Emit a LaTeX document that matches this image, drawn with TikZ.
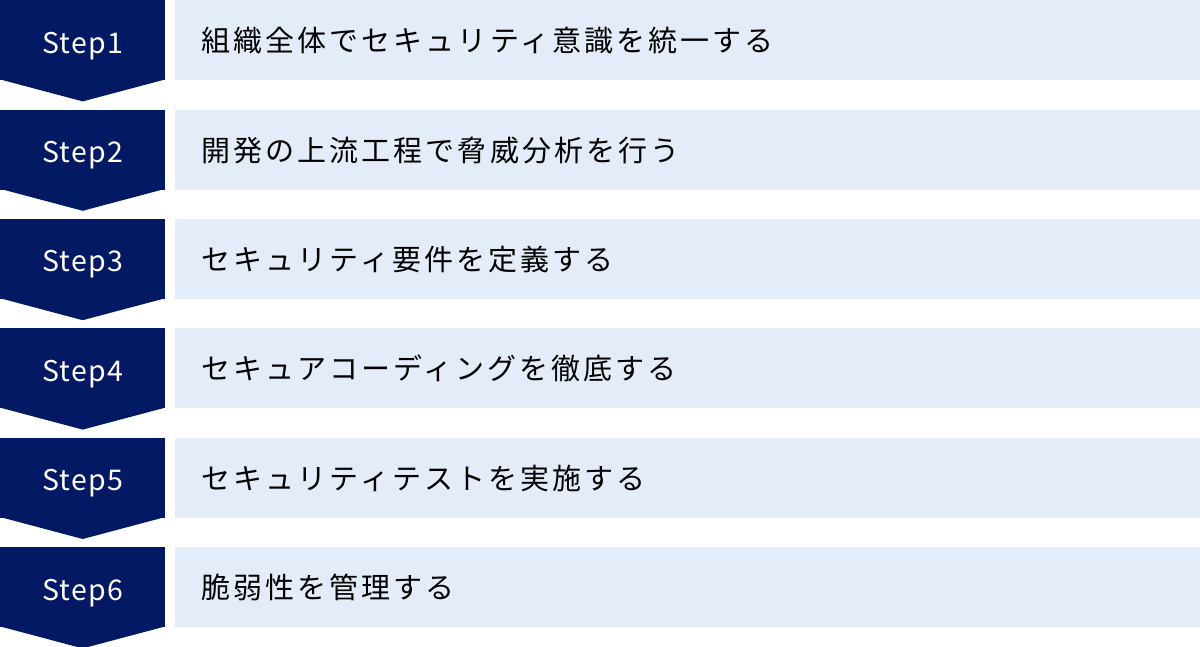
\documentclass[tikz,border=0pt]{standalone}
\usepackage{fontspec}
\setmainfont{Noto Sans CJK JP}
\newfontfamily\stepfont[LetterSpace=4]{Noto Sans CJK JP}
\newfontfamily\taskfont[LetterSpace=10.5]{Noto Sans CJK JP}
\usepackage{tikz}
\usetikzlibrary{positioning}

\definecolor{stepnavy}{RGB}{4,25,99}
\definecolor{taskblue}{RGB}{229,236,249}

\tikzset{
  stepbox/.style={fill=stepnavy,text=white,minimum height=80pt,minimum width=165pt,inner sep=0pt,
    text height=26pt,text depth=0pt,font=\stepfont\fontsize{28.5}{32}\selectfont},
  taskbox/.style={fill=taskblue,minimum height=80pt,text width=974pt,inner xsep=27pt,inner ysep=0pt,align=left,
    text height=23pt,text depth=0pt,font=\taskfont\fontsize{29}{32}\selectfont},
  steptip/.style={fill=stepnavy}
}

\begin{document}
\begin{tikzpicture}[x=1pt,y=1pt]
  \useasboundingbox (0,0) rectangle (1200,-647);

  \node[stepbox,anchor=north west] (s1) at (0,0) {Step1};
  \node[stepbox,below=29pt of s1] (s2) {Step2};
  \node[stepbox,below=29pt of s2] (s3) {Step3};
  \node[stepbox,below=29pt of s3] (s4) {Step4};
  \node[stepbox,below=29pt of s4] (s5) {Step5};
  \node[stepbox,below=29pt of s5] (s6) {Step6};

  % arrow points under each step
  \fill[steptip] ([yshift=1pt]s1.south west) -- ([yshift=1pt]s1.south east) -- ([yshift=-21pt]s1.south) -- cycle;
  \fill[steptip] ([yshift=1pt]s2.south west) -- ([yshift=1pt]s2.south east) -- ([yshift=-21pt]s2.south) -- cycle;
  \fill[steptip] ([yshift=1pt]s3.south west) -- ([yshift=1pt]s3.south east) -- ([yshift=-21pt]s3.south) -- cycle;
  \fill[steptip] ([yshift=1pt]s4.south west) -- ([yshift=1pt]s4.south east) -- ([yshift=-21pt]s4.south) -- cycle;
  \fill[steptip] ([yshift=1pt]s5.south west) -- ([yshift=1pt]s5.south east) -- ([yshift=-21pt]s5.south) -- cycle;
  \fill[steptip] ([yshift=1pt]s6.south west) -- ([yshift=1pt]s6.south east) -- ([yshift=-21pt]s6.south) -- cycle;

  \node[taskbox,right=9pt of s1] (t1) {組織全体でセキュリティ意識を統一する};
  \node[taskbox,right=9pt of s2] (t2) {開発の上流工程で脅威分析を行う};
  \node[taskbox,right=9pt of s3] (t3) {セキュリティ要件を定義する};
  \node[taskbox,right=9pt of s4] (t4) {セキュアコーディングを徹底する};
  \node[taskbox,right=9pt of s5] (t5) {セキュリティテストを実施する};
  \node[taskbox,right=9pt of s6] (t6) {脆弱性を管理する};
\end{tikzpicture}
\end{document}
